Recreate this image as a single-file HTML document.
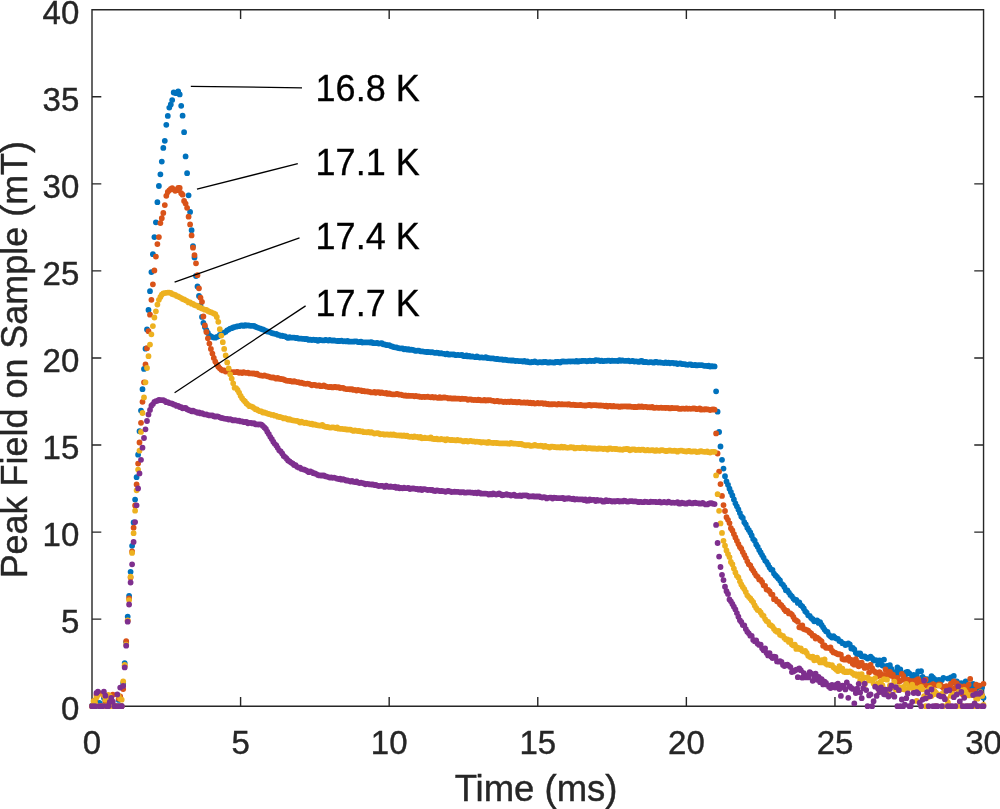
<!DOCTYPE html>
<html lang="en"><head><meta charset="utf-8"><title>Peak Field on Sample vs Time</title>
<style>html,body{margin:0;padding:0;background:#fff}body{width:1000px;height:809px;overflow:hidden}svg{display:block}</style>
</head><body>
<svg width="1000" height="809" viewBox="0 0 1000 809">
<rect width="1000" height="809" fill="#fff"/>
<path d="M92.00 9.70H983.55V706.20H92.00ZM240.59 706.20v-9.3M240.59 9.70v9.3M389.18 706.20v-9.3M389.18 9.70v9.3M537.77 706.20v-9.3M537.77 9.70v9.3M686.37 706.20v-9.3M686.37 9.70v9.3M834.96 706.20v-9.3M834.96 9.70v9.3M92.00 619.14h9.3M983.55 619.14h-9.3M92.00 532.08h9.3M983.55 532.08h-9.3M92.00 445.01h9.3M983.55 445.01h-9.3M92.00 357.95h9.3M983.55 357.95h-9.3M92.00 270.89h9.3M983.55 270.89h-9.3M92.00 183.83h9.3M983.55 183.83h-9.3M92.00 96.76h9.3M983.55 96.76h-9.3" fill="none" stroke="#262626" stroke-width="1.4"/>
<g font-family="'Liberation Sans', Arial, Helvetica, sans-serif" font-size="33" fill="#262626" stroke="#262626" stroke-width="0.4">
<text x="92.0" y="754.2" text-anchor="middle">0</text>
<text x="240.6" y="754.2" text-anchor="middle">5</text>
<text x="389.2" y="754.2" text-anchor="middle">10</text>
<text x="537.8" y="754.2" text-anchor="middle">15</text>
<text x="686.4" y="754.2" text-anchor="middle">20</text>
<text x="835.0" y="754.2" text-anchor="middle">25</text>
<text x="983.5" y="754.2" text-anchor="middle">30</text>
<text x="79.3" y="720.2" text-anchor="end">0</text>
<text x="79.3" y="633.1" text-anchor="end">5</text>
<text x="79.3" y="546.1" text-anchor="end">10</text>
<text x="79.3" y="459.0" text-anchor="end">15</text>
<text x="79.3" y="372.0" text-anchor="end">20</text>
<text x="79.3" y="284.9" text-anchor="end">25</text>
<text x="79.3" y="197.8" text-anchor="end">30</text>
<text x="79.3" y="110.8" text-anchor="end">35</text>
<text x="79.3" y="23.7" text-anchor="end">40</text>
</g>
<g font-family="'Liberation Sans', Arial, Helvetica, sans-serif" font-size="36.5" fill="#262626" stroke="#262626" stroke-width="0.4">
<text x="536.1" y="801.2" text-anchor="middle">Time (ms)</text>
<text transform="translate(26.8 359.7) rotate(-90) scale(1 1.05)" font-size="35.95" text-anchor="middle">Peak Field on Sample (mT)</text>
</g>
<path d="M92.0 705.7h0M93.5 706.2h0M95.0 706.2h0M96.5 706.2h0M97.9 706.2h0M99.4 703.0h0M100.9 706.2h0M102.4 706.2h0M103.9 697.7h0M105.4 702.4h0M106.9 706.2h0M108.3 696.4h0M109.8 706.2h0M111.3 706.2h0M112.8 706.2h0M114.3 706.2h0M115.8 706.2h0M117.3 706.2h0M118.7 699.9h0M120.2 706.2h0M121.7 706.2h0M123.2 683.2h0M124.7 663.1h0M126.2 642.1h0M127.7 616.6h0M129.1 595.8h0M130.6 571.8h0M132.1 545.8h0M133.6 522.4h0M135.1 499.6h0M136.6 477.2h0M138.1 454.7h0M139.5 431.2h0M141.0 410.6h0M142.5 389.2h0M144.0 368.9h0M145.5 348.7h0M147.0 329.4h0M148.5 310.0h0M150.0 291.2h0M151.4 272.1h0M152.9 254.2h0M154.4 237.1h0M155.9 222.3h0M157.4 202.2h0M158.9 186.0h0M160.4 174.3h0M161.8 161.6h0M163.3 147.9h0M164.8 140.8h0M166.3 124.8h0M167.8 115.9h0M169.3 107.6h0M170.8 104.4h0M172.2 100.1h0M173.7 92.5h0M175.2 93.1h0M176.7 93.2h0M178.2 91.5h0M179.7 94.4h0M181.2 105.8h0M182.6 115.7h0M184.1 132.2h0M185.6 156.4h0M187.1 173.2h0M188.6 195.3h0M190.1 211.9h0M191.6 230.2h0M193.0 246.1h0M194.5 257.5h0M196.0 276.0h0M197.5 286.5h0M199.0 295.9h0M200.5 305.6h0M202.0 316.9h0M203.4 322.9h0M204.9 327.1h0M206.4 330.2h0M207.9 333.0h0M209.4 335.5h0M210.9 336.5h0M212.4 337.1h0M213.8 337.6h0M215.3 337.7h0M216.8 337.0h0M218.3 336.3h0M219.8 335.0h0M221.3 334.5h0M222.8 333.0h0M224.2 332.6h0M225.7 331.8h0M227.2 330.3h0M228.7 329.6h0M230.2 328.6h0M231.7 328.2h0M233.2 327.5h0M234.6 327.1h0M236.1 326.7h0M237.6 326.3h0M239.1 326.2h0M240.6 325.6h0M242.1 325.5h0M243.6 325.9h0M245.0 325.2h0M246.5 325.5h0M248.0 325.3h0M249.5 325.7h0M251.0 325.9h0M252.5 325.9h0M254.0 325.9h0M255.5 326.7h0M256.9 327.3h0M258.4 327.8h0M259.9 328.3h0M261.4 329.1h0M262.9 329.4h0M264.4 330.1h0M265.9 330.9h0M267.3 331.6h0M268.8 331.6h0M270.3 332.3h0M271.8 333.0h0M273.3 333.4h0M274.8 333.8h0M276.3 333.8h0M277.7 334.8h0M279.2 335.1h0M280.7 335.8h0M282.2 335.7h0M283.7 336.2h0M285.2 336.3h0M286.7 337.3h0M288.1 337.9h0M289.6 337.1h0M291.1 337.6h0M292.6 337.6h0M294.1 337.7h0M295.6 338.0h0M297.1 338.0h0M298.5 338.6h0M300.0 338.6h0M301.5 338.7h0M303.0 338.9h0M304.5 339.0h0M306.0 339.0h0M307.5 339.1h0M308.9 339.9h0M310.4 339.6h0M311.9 340.0h0M313.4 339.7h0M314.9 340.0h0M316.4 340.0h0M317.9 340.8h0M319.3 339.9h0M320.8 340.1h0M322.3 340.3h0M323.8 340.4h0M325.3 340.0h0M326.8 340.1h0M328.3 340.5h0M329.7 339.9h0M331.2 340.4h0M332.7 340.7h0M334.2 340.5h0M335.7 340.8h0M337.2 341.0h0M338.7 341.1h0M340.1 341.0h0M341.6 340.7h0M343.1 341.3h0M344.6 341.2h0M346.1 341.4h0M347.6 341.0h0M349.1 341.7h0M350.5 341.7h0M352.0 341.6h0M353.5 341.7h0M355.0 341.4h0M356.5 341.4h0M358.0 342.0h0M359.5 342.2h0M361.0 341.6h0M362.4 342.5h0M363.9 342.3h0M365.4 342.3h0M366.9 342.4h0M368.4 342.4h0M369.9 342.5h0M371.4 342.2h0M372.8 343.0h0M374.3 343.1h0M375.8 343.1h0M377.3 343.0h0M378.8 343.6h0M380.3 343.4h0M381.8 343.1h0M383.2 344.3h0M384.7 344.4h0M386.2 345.0h0M387.7 345.2h0M389.2 345.2h0M390.7 346.0h0M392.2 346.5h0M393.6 347.1h0M395.1 347.3h0M396.6 347.5h0M398.1 348.0h0M399.6 348.3h0M401.1 348.4h0M402.6 348.4h0M404.0 349.3h0M405.5 348.9h0M407.0 349.5h0M408.5 349.2h0M410.0 349.9h0M411.5 349.7h0M413.0 349.9h0M414.4 350.4h0M415.9 350.9h0M417.4 350.7h0M418.9 350.6h0M420.4 351.3h0M421.9 351.3h0M423.4 351.6h0M424.8 351.8h0M426.3 352.0h0M427.8 352.0h0M429.3 352.2h0M430.8 352.3h0M432.3 352.2h0M433.8 352.6h0M435.2 352.9h0M436.7 352.7h0M438.2 352.9h0M439.7 353.4h0M441.2 353.1h0M442.7 353.6h0M444.2 353.8h0M445.6 354.3h0M447.1 353.7h0M448.6 354.5h0M450.1 354.5h0M451.6 354.4h0M453.1 354.5h0M454.6 354.7h0M456.0 355.2h0M457.5 354.9h0M459.0 355.1h0M460.5 355.2h0M462.0 355.0h0M463.5 356.0h0M465.0 356.1h0M466.5 355.5h0M467.9 356.4h0M469.4 355.9h0M470.9 356.7h0M472.4 356.4h0M473.9 356.8h0M475.4 357.2h0M476.9 356.4h0M478.3 357.2h0M479.8 357.6h0M481.3 357.3h0M482.8 357.6h0M484.3 357.6h0M485.8 357.1h0M487.3 358.0h0M488.7 358.1h0M490.2 358.3h0M491.7 358.4h0M493.2 358.4h0M494.7 358.8h0M496.2 359.0h0M497.7 359.0h0M499.1 359.3h0M500.6 359.4h0M502.1 359.5h0M503.6 359.9h0M505.1 359.7h0M506.6 360.0h0M508.1 360.3h0M509.5 360.3h0M511.0 360.5h0M512.5 360.5h0M514.0 360.6h0M515.5 361.0h0M517.0 360.8h0M518.5 361.1h0M519.9 361.1h0M521.4 361.1h0M522.9 361.6h0M524.4 361.0h0M525.9 361.8h0M527.4 361.5h0M528.9 362.2h0M530.3 362.4h0M531.8 361.8h0M533.3 362.0h0M534.8 361.4h0M536.3 362.2h0M537.8 362.6h0M539.3 362.1h0M540.7 362.1h0M542.2 362.4h0M543.7 362.0h0M545.2 362.0h0M546.7 362.2h0M548.2 362.7h0M549.7 362.1h0M551.1 362.4h0M552.6 362.3h0M554.1 362.7h0M555.6 362.0h0M557.1 362.1h0M558.6 361.9h0M560.1 362.6h0M561.5 361.7h0M563.0 361.3h0M564.5 361.7h0M566.0 361.7h0M567.5 361.6h0M569.0 361.3h0M570.5 361.6h0M572.0 361.3h0M573.4 361.3h0M574.9 361.5h0M576.4 361.0h0M577.9 361.7h0M579.4 361.2h0M580.9 361.2h0M582.4 360.9h0M583.8 360.9h0M585.3 360.8h0M586.8 361.3h0M588.3 361.0h0M589.8 360.7h0M591.3 361.0h0M592.8 360.8h0M594.2 361.0h0M595.7 360.2h0M597.2 360.4h0M598.7 360.5h0M600.2 361.0h0M601.7 360.6h0M603.2 361.2h0M604.6 360.9h0M606.1 360.9h0M607.6 360.6h0M609.1 360.7h0M610.6 361.0h0M612.1 360.7h0M613.6 360.9h0M615.0 360.9h0M616.5 360.9h0M618.0 361.1h0M619.5 360.1h0M621.0 360.8h0M622.5 360.5h0M624.0 360.8h0M625.4 360.8h0M626.9 360.8h0M628.4 360.6h0M629.9 361.3h0M631.4 361.1h0M632.9 361.0h0M634.4 361.6h0M635.8 361.4h0M637.3 361.6h0M638.8 361.9h0M640.3 361.2h0M641.8 361.0h0M643.3 362.0h0M644.8 362.2h0M646.2 362.0h0M647.7 362.3h0M649.2 362.3h0M650.7 362.2h0M652.2 362.3h0M653.7 362.7h0M655.2 362.0h0M656.6 361.8h0M658.1 362.5h0M659.6 362.3h0M661.1 362.7h0M662.6 362.8h0M664.1 363.0h0M665.6 362.5h0M667.0 363.0h0M668.5 362.7h0M670.0 363.3h0M671.5 362.9h0M673.0 362.9h0M674.5 363.4h0M676.0 363.2h0M677.5 364.0h0M678.9 363.6h0M680.4 363.3h0M681.9 364.0h0M683.4 364.1h0M684.9 364.1h0M686.4 364.7h0M687.9 364.8h0M689.3 364.3h0M690.8 364.3h0M692.3 365.2h0M693.8 365.2h0M695.3 365.0h0M696.8 365.4h0M698.3 365.1h0M699.7 365.2h0M701.2 365.2h0M702.7 365.3h0M704.2 365.8h0M705.7 365.8h0M707.2 366.0h0M708.7 365.6h0M710.1 366.6h0M711.6 366.2h0M713.1 366.4h0M714.6 366.4h0M716.1 391.3h0M717.6 411.7h0M719.1 432.0h0M720.5 446.5h0M722.0 459.8h0M723.5 468.6h0M725.0 476.2h0M726.5 481.5h0M728.0 484.7h0M729.5 488.7h0M730.9 492.0h0M732.4 495.5h0M733.9 499.5h0M735.4 503.3h0M736.9 506.3h0M738.4 509.4h0M739.9 513.0h0M741.3 516.4h0M742.8 518.0h0M744.3 522.2h0M745.8 524.3h0M747.3 527.7h0M748.8 530.0h0M750.3 532.4h0M751.7 535.4h0M753.2 539.1h0M754.7 540.7h0M756.2 544.4h0M757.7 546.7h0M759.2 550.0h0M760.7 552.4h0M762.1 555.1h0M763.6 557.6h0M765.1 560.6h0M766.6 562.1h0M768.1 564.7h0M769.6 567.5h0M771.1 569.6h0M772.5 569.9h0M774.0 573.6h0M775.5 575.5h0M777.0 576.9h0M778.5 578.8h0M780.0 580.5h0M781.5 583.6h0M783.0 584.8h0M784.4 587.0h0M785.9 590.3h0M787.4 590.5h0M788.9 592.6h0M790.4 595.0h0M791.9 596.3h0M793.4 598.6h0M794.8 599.9h0M796.3 599.8h0M797.8 602.9h0M799.3 602.5h0M800.8 605.2h0M802.3 606.3h0M803.8 608.4h0M805.2 611.2h0M806.7 612.6h0M808.2 615.3h0M809.7 616.0h0M811.2 617.9h0M812.7 619.2h0M814.2 621.3h0M815.6 621.1h0M817.1 620.5h0M818.6 622.9h0M820.1 622.1h0M821.6 624.9h0M823.1 627.2h0M824.6 629.6h0M826.0 631.2h0M827.5 632.0h0M829.0 634.9h0M830.5 636.2h0M832.0 637.6h0M833.5 636.2h0M835.0 637.7h0M836.4 638.6h0M837.9 638.8h0M839.4 640.9h0M840.9 641.6h0M842.4 643.2h0M843.9 643.6h0M845.4 645.0h0M846.8 644.5h0M848.3 643.3h0M849.8 644.4h0M851.3 648.5h0M852.8 648.0h0M854.3 649.4h0M855.8 652.8h0M857.2 654.3h0M858.7 653.3h0M860.2 653.3h0M861.7 656.2h0M863.2 656.5h0M864.7 656.4h0M866.2 657.4h0M867.6 658.6h0M869.1 657.7h0M870.6 656.7h0M872.1 658.2h0M873.6 660.6h0M875.1 660.1h0M876.6 660.3h0M878.0 664.5h0M879.5 660.5h0M881.0 663.9h0M882.5 665.5h0M884.0 659.6h0M885.5 666.6h0M887.0 665.8h0M888.5 667.7h0M889.9 665.2h0M891.4 668.9h0M892.9 672.3h0M894.4 674.6h0M895.9 671.9h0M897.4 667.4h0M898.9 674.1h0M900.3 669.5h0M901.8 672.9h0M903.3 673.9h0M904.8 676.7h0M906.3 672.2h0M907.8 671.9h0M909.3 673.4h0M910.7 679.2h0M912.2 676.3h0M913.7 674.9h0M915.2 677.2h0M916.7 675.4h0M918.2 671.4h0M919.7 680.6h0M921.1 671.2h0M922.6 676.8h0M924.1 679.0h0M925.6 679.2h0M927.1 679.2h0M928.6 681.7h0M930.1 681.1h0M931.5 676.1h0M933.0 677.6h0M934.5 679.1h0M936.0 680.1h0M937.5 682.6h0M939.0 679.9h0M940.5 681.7h0M941.9 680.1h0M943.4 677.8h0M944.9 688.9h0M946.4 688.2h0M947.9 678.6h0M949.4 686.5h0M950.9 677.3h0M952.3 682.3h0M953.8 675.9h0M955.3 682.5h0M956.8 681.4h0M958.3 687.1h0M959.8 686.9h0M961.3 683.1h0M962.7 687.1h0M964.2 684.8h0M965.7 681.3h0M967.2 688.0h0M968.7 688.3h0M970.2 685.2h0M971.7 686.7h0M973.1 684.0h0M974.6 687.0h0M976.1 690.5h0M977.6 697.5h0M979.1 685.9h0M980.6 690.3h0M982.1 687.3h0M983.5 697.8h0" fill="none" stroke="#0072BD" stroke-width="5.8" stroke-linecap="round"/>
<path d="M92.0 706.2h0M93.5 706.2h0M95.0 700.3h0M96.5 694.9h0M97.9 694.4h0M99.4 693.1h0M100.9 706.2h0M102.4 706.2h0M103.9 695.5h0M105.4 700.8h0M106.9 706.2h0M108.3 706.2h0M109.8 706.2h0M111.3 706.2h0M112.8 694.7h0M114.3 706.2h0M115.8 706.2h0M117.3 706.2h0M118.7 698.6h0M120.2 696.5h0M121.7 706.2h0M123.2 689.1h0M124.7 665.8h0M126.2 641.2h0M127.7 620.7h0M129.1 598.3h0M130.6 577.5h0M132.1 551.5h0M133.6 527.7h0M135.1 505.4h0M136.6 484.4h0M138.1 463.6h0M139.5 442.5h0M141.0 422.8h0M142.5 401.8h0M144.0 382.3h0M145.5 364.5h0M147.0 348.2h0M148.5 331.2h0M150.0 314.7h0M151.4 299.8h0M152.9 284.3h0M154.4 270.5h0M155.9 256.6h0M157.4 244.1h0M158.9 237.1h0M160.4 223.1h0M161.8 218.2h0M163.3 212.9h0M164.8 205.1h0M166.3 195.8h0M167.8 191.9h0M169.3 190.3h0M170.8 189.0h0M172.2 188.2h0M173.7 189.6h0M175.2 190.8h0M176.7 190.2h0M178.2 188.0h0M179.7 188.0h0M181.2 193.2h0M182.6 194.7h0M184.1 201.0h0M185.6 203.6h0M187.1 207.8h0M188.6 216.7h0M190.1 224.4h0M191.6 235.4h0M193.0 247.7h0M194.5 255.2h0M196.0 263.3h0M197.5 275.2h0M199.0 288.3h0M200.5 297.7h0M202.0 301.8h0M203.4 316.5h0M204.9 325.5h0M206.4 331.9h0M207.9 338.3h0M209.4 343.6h0M210.9 349.0h0M212.4 353.6h0M213.8 358.0h0M215.3 361.6h0M216.8 364.5h0M218.3 366.7h0M219.8 368.3h0M221.3 369.7h0M222.8 370.4h0M224.2 370.4h0M225.7 371.6h0M227.2 371.3h0M228.7 371.4h0M230.2 372.0h0M231.7 372.1h0M233.2 372.2h0M234.6 372.2h0M236.1 372.1h0M237.6 372.0h0M239.1 372.8h0M240.6 372.4h0M242.1 373.0h0M243.6 372.2h0M245.0 372.7h0M246.5 372.9h0M248.0 372.6h0M249.5 373.4h0M251.0 373.4h0M252.5 373.6h0M254.0 373.3h0M255.5 374.0h0M256.9 373.7h0M258.4 374.8h0M259.9 375.3h0M261.4 375.6h0M262.9 375.8h0M264.4 375.5h0M265.9 375.8h0M267.3 376.3h0M268.8 376.6h0M270.3 377.3h0M271.8 377.6h0M273.3 377.4h0M274.8 378.0h0M276.3 378.7h0M277.7 377.8h0M279.2 378.8h0M280.7 379.0h0M282.2 379.2h0M283.7 379.5h0M285.2 380.2h0M286.7 380.7h0M288.1 380.9h0M289.6 381.0h0M291.1 381.2h0M292.6 381.7h0M294.1 381.2h0M295.6 381.7h0M297.1 382.1h0M298.5 382.2h0M300.0 382.8h0M301.5 382.7h0M303.0 383.2h0M304.5 383.7h0M306.0 383.8h0M307.5 383.7h0M308.9 383.8h0M310.4 384.6h0M311.9 385.3h0M313.4 384.8h0M314.9 385.0h0M316.4 385.6h0M317.9 385.7h0M319.3 385.4h0M320.8 386.2h0M322.3 386.0h0M323.8 385.5h0M325.3 386.2h0M326.8 386.7h0M328.3 387.1h0M329.7 387.0h0M331.2 386.9h0M332.7 387.4h0M334.2 386.9h0M335.7 387.0h0M337.2 387.4h0M338.7 387.2h0M340.1 388.1h0M341.6 387.8h0M343.1 388.0h0M344.6 388.7h0M346.1 389.1h0M347.6 389.2h0M349.1 389.1h0M350.5 389.4h0M352.0 389.2h0M353.5 389.9h0M355.0 389.8h0M356.5 390.5h0M358.0 390.0h0M359.5 390.3h0M361.0 390.5h0M362.4 391.2h0M363.9 390.8h0M365.4 391.4h0M366.9 391.3h0M368.4 391.7h0M369.9 391.9h0M371.4 392.4h0M372.8 392.3h0M374.3 392.0h0M375.8 392.8h0M377.3 392.1h0M378.8 392.2h0M380.3 393.0h0M381.8 392.5h0M383.2 393.1h0M384.7 393.3h0M386.2 392.9h0M387.7 393.9h0M389.2 393.4h0M390.7 394.0h0M392.2 394.3h0M393.6 394.3h0M395.1 394.3h0M396.6 394.0h0M398.1 394.2h0M399.6 394.7h0M401.1 394.7h0M402.6 395.2h0M404.0 395.6h0M405.5 395.4h0M407.0 395.9h0M408.5 395.7h0M410.0 395.9h0M411.5 395.9h0M413.0 395.8h0M414.4 396.3h0M415.9 396.0h0M417.4 396.3h0M418.9 396.5h0M420.4 396.9h0M421.9 397.0h0M423.4 396.9h0M424.8 397.0h0M426.3 396.9h0M427.8 396.7h0M429.3 397.1h0M430.8 397.3h0M432.3 397.0h0M433.8 397.6h0M435.2 397.2h0M436.7 397.6h0M438.2 397.9h0M439.7 397.2h0M441.2 397.9h0M442.7 397.7h0M444.2 397.4h0M445.6 397.6h0M447.1 397.8h0M448.6 398.4h0M450.1 398.2h0M451.6 398.6h0M453.1 398.5h0M454.6 398.5h0M456.0 398.6h0M457.5 398.7h0M459.0 398.7h0M460.5 399.0h0M462.0 398.6h0M463.5 398.9h0M465.0 398.8h0M466.5 399.1h0M467.9 399.8h0M469.4 399.4h0M470.9 399.4h0M472.4 399.9h0M473.9 400.0h0M475.4 399.9h0M476.9 400.2h0M478.3 399.7h0M479.8 400.0h0M481.3 400.4h0M482.8 400.4h0M484.3 400.0h0M485.8 400.5h0M487.3 400.2h0M488.7 400.3h0M490.2 400.2h0M491.7 400.6h0M493.2 400.8h0M494.7 401.3h0M496.2 401.1h0M497.7 401.0h0M499.1 401.6h0M500.6 401.3h0M502.1 401.6h0M503.6 402.0h0M505.1 401.6h0M506.6 402.0h0M508.1 401.6h0M509.5 402.1h0M511.0 401.5h0M512.5 402.1h0M514.0 402.0h0M515.5 401.8h0M517.0 402.4h0M518.5 401.8h0M519.9 402.2h0M521.4 402.7h0M522.9 402.7h0M524.4 402.4h0M525.9 402.8h0M527.4 402.3h0M528.9 403.0h0M530.3 402.6h0M531.8 403.3h0M533.3 402.8h0M534.8 403.5h0M536.3 403.3h0M537.8 403.0h0M539.3 403.4h0M540.7 403.1h0M542.2 403.1h0M543.7 403.8h0M545.2 403.5h0M546.7 404.0h0M548.2 404.0h0M549.7 404.4h0M551.1 404.2h0M552.6 404.3h0M554.1 404.1h0M555.6 404.3h0M557.1 404.5h0M558.6 404.0h0M560.1 404.3h0M561.5 404.2h0M563.0 404.4h0M564.5 404.4h0M566.0 404.4h0M567.5 404.5h0M569.0 404.1h0M570.5 404.8h0M572.0 404.9h0M573.4 404.6h0M574.9 405.0h0M576.4 405.1h0M577.9 405.2h0M579.4 405.2h0M580.9 405.0h0M582.4 405.3h0M583.8 405.3h0M585.3 405.7h0M586.8 405.3h0M588.3 405.1h0M589.8 404.8h0M591.3 405.6h0M592.8 405.1h0M594.2 405.2h0M595.7 405.1h0M597.2 405.4h0M598.7 405.5h0M600.2 405.5h0M601.7 405.6h0M603.2 405.7h0M604.6 406.0h0M606.1 405.6h0M607.6 406.5h0M609.1 405.8h0M610.6 405.9h0M612.1 406.4h0M613.6 405.8h0M615.0 406.4h0M616.5 406.4h0M618.0 406.4h0M619.5 406.9h0M621.0 406.4h0M622.5 406.6h0M624.0 406.3h0M625.4 406.3h0M626.9 406.5h0M628.4 406.7h0M629.9 406.5h0M631.4 406.8h0M632.9 406.8h0M634.4 407.2h0M635.8 407.0h0M637.3 407.1h0M638.8 406.3h0M640.3 406.9h0M641.8 406.5h0M643.3 407.1h0M644.8 406.8h0M646.2 406.8h0M647.7 407.3h0M649.2 407.2h0M650.7 407.4h0M652.2 406.9h0M653.7 407.8h0M655.2 407.8h0M656.6 407.6h0M658.1 407.8h0M659.6 407.8h0M661.1 407.7h0M662.6 407.9h0M664.1 407.9h0M665.6 408.1h0M667.0 407.8h0M668.5 408.0h0M670.0 408.4h0M671.5 408.0h0M673.0 408.1h0M674.5 408.2h0M676.0 408.2h0M677.5 408.2h0M678.9 408.8h0M680.4 408.9h0M681.9 408.7h0M683.4 408.7h0M684.9 408.8h0M686.4 408.3h0M687.9 408.8h0M689.3 408.6h0M690.8 408.8h0M692.3 408.7h0M693.8 408.4h0M695.3 408.7h0M696.8 409.2h0M698.3 408.9h0M699.7 408.4h0M701.2 409.7h0M702.7 409.4h0M704.2 409.5h0M705.7 409.2h0M707.2 409.4h0M708.7 409.6h0M710.1 410.0h0M711.6 409.7h0M713.1 409.5h0M714.6 409.7h0M716.1 433.4h0M717.6 453.5h0M719.1 471.6h0M720.5 484.1h0M722.0 495.9h0M723.5 505.1h0M725.0 511.0h0M726.5 517.2h0M728.0 519.8h0M729.5 523.1h0M730.9 528.2h0M732.4 530.5h0M733.9 534.0h0M735.4 537.5h0M736.9 540.7h0M738.4 544.0h0M739.9 547.0h0M741.3 548.7h0M742.8 552.1h0M744.3 554.9h0M745.8 557.8h0M747.3 561.3h0M748.8 564.2h0M750.3 565.3h0M751.7 568.5h0M753.2 570.6h0M754.7 573.1h0M756.2 575.6h0M757.7 576.8h0M759.2 579.6h0M760.7 580.0h0M762.1 581.9h0M763.6 585.3h0M765.1 585.9h0M766.6 589.4h0M768.1 589.9h0M769.6 591.3h0M771.1 594.1h0M772.5 594.7h0M774.0 599.2h0M775.5 599.2h0M777.0 601.3h0M778.5 602.0h0M780.0 604.2h0M781.5 605.5h0M783.0 607.3h0M784.4 609.4h0M785.9 611.2h0M787.4 610.9h0M788.9 613.4h0M790.4 613.3h0M791.9 614.6h0M793.4 616.9h0M794.8 619.6h0M796.3 620.5h0M797.8 621.7h0M799.3 627.3h0M800.8 627.5h0M802.3 625.5h0M803.8 628.9h0M805.2 629.5h0M806.7 630.0h0M808.2 630.7h0M809.7 632.5h0M811.2 633.4h0M812.7 635.7h0M814.2 635.9h0M815.6 638.5h0M817.1 637.6h0M818.6 638.8h0M820.1 640.2h0M821.6 641.3h0M823.1 645.8h0M824.6 645.5h0M826.0 647.8h0M827.5 647.9h0M829.0 648.0h0M830.5 647.4h0M832.0 650.7h0M833.5 652.4h0M835.0 652.7h0M836.4 653.4h0M837.9 654.3h0M839.4 654.1h0M840.9 654.7h0M842.4 659.0h0M843.9 659.6h0M845.4 659.1h0M846.8 659.7h0M848.3 657.5h0M849.8 660.9h0M851.3 659.8h0M852.8 663.8h0M854.3 664.7h0M855.8 659.1h0M857.2 662.0h0M858.7 666.3h0M860.2 665.5h0M861.7 662.6h0M863.2 665.5h0M864.7 667.9h0M866.2 665.8h0M867.6 667.2h0M869.1 672.6h0M870.6 664.9h0M872.1 668.1h0M873.6 670.8h0M875.1 671.9h0M876.6 673.1h0M878.0 676.1h0M879.5 672.2h0M881.0 673.9h0M882.5 676.0h0M884.0 675.2h0M885.5 669.5h0M887.0 676.2h0M888.5 672.7h0M889.9 672.0h0M891.4 675.8h0M892.9 674.6h0M894.4 679.8h0M895.9 678.9h0M897.4 678.0h0M898.9 681.5h0M900.3 681.0h0M901.8 673.8h0M903.3 675.9h0M904.8 679.2h0M906.3 682.7h0M907.8 679.6h0M909.3 683.4h0M910.7 681.3h0M912.2 681.2h0M913.7 681.2h0M915.2 684.1h0M916.7 679.9h0M918.2 679.1h0M919.7 684.1h0M921.1 682.6h0M922.6 684.9h0M924.1 683.2h0M925.6 679.7h0M927.1 685.9h0M928.6 686.6h0M930.1 685.3h0M931.5 686.1h0M933.0 684.1h0M934.5 684.9h0M936.0 706.2h0M937.5 685.3h0M939.0 684.4h0M940.5 684.7h0M941.9 686.5h0M943.4 688.1h0M944.9 689.5h0M946.4 686.1h0M947.9 687.3h0M949.4 687.1h0M950.9 683.7h0M952.3 689.7h0M953.8 681.5h0M955.3 688.0h0M956.8 683.4h0M958.3 688.7h0M959.8 686.1h0M961.3 688.7h0M962.7 694.3h0M964.2 686.5h0M965.7 693.8h0M967.2 689.7h0M968.7 684.6h0M970.2 678.9h0M971.7 690.9h0M973.1 706.2h0M974.6 690.9h0M976.1 684.7h0M977.6 686.1h0M979.1 685.7h0M980.6 693.8h0M982.1 695.6h0M983.5 683.8h0" fill="none" stroke="#D95319" stroke-width="5.8" stroke-linecap="round"/>
<path d="M92.0 706.2h0M93.5 701.2h0M95.0 702.8h0M96.5 697.6h0M97.9 695.0h0M99.4 706.2h0M100.9 706.2h0M102.4 706.2h0M103.9 695.4h0M105.4 699.7h0M106.9 706.2h0M108.3 694.9h0M109.8 696.2h0M111.3 706.2h0M112.8 706.2h0M114.3 706.2h0M115.8 706.2h0M117.3 706.2h0M118.7 695.9h0M120.2 698.8h0M121.7 699.7h0M123.2 681.5h0M124.7 664.9h0M126.2 644.7h0M127.7 620.3h0M129.1 600.1h0M130.6 576.7h0M132.1 552.9h0M133.6 533.2h0M135.1 510.7h0M136.6 490.3h0M138.1 469.6h0M139.5 450.7h0M141.0 431.9h0M142.5 413.0h0M144.0 397.4h0M145.5 382.3h0M147.0 368.0h0M148.5 356.2h0M150.0 344.6h0M151.4 334.3h0M152.9 326.1h0M154.4 317.5h0M155.9 311.3h0M157.4 304.6h0M158.9 299.8h0M160.4 296.9h0M161.8 294.7h0M163.3 293.3h0M164.8 293.1h0M166.3 292.8h0M167.8 292.7h0M169.3 292.6h0M170.8 292.9h0M172.2 294.0h0M173.7 294.4h0M175.2 295.0h0M176.7 295.9h0M178.2 296.5h0M179.7 297.3h0M181.2 298.1h0M182.6 298.9h0M184.1 299.5h0M185.6 300.3h0M187.1 301.1h0M188.6 302.4h0M190.1 302.5h0M191.6 303.7h0M193.0 303.9h0M194.5 305.0h0M196.0 305.5h0M197.5 306.0h0M199.0 307.2h0M200.5 307.7h0M202.0 308.6h0M203.4 309.1h0M204.9 309.7h0M206.4 310.0h0M207.9 311.0h0M209.4 311.7h0M210.9 312.2h0M212.4 312.8h0M213.8 313.5h0M215.3 314.2h0M216.8 316.9h0M218.3 321.8h0M219.8 329.2h0M221.3 335.6h0M222.8 342.2h0M224.2 348.9h0M225.7 355.5h0M227.2 362.4h0M228.7 368.4h0M230.2 374.3h0M231.7 378.6h0M233.2 383.3h0M234.6 387.7h0M236.1 388.1h0M237.6 390.0h0M239.1 392.6h0M240.6 395.7h0M242.1 398.2h0M243.6 400.1h0M245.0 401.4h0M246.5 403.5h0M248.0 404.8h0M249.5 406.2h0M251.0 406.3h0M252.5 406.9h0M254.0 408.1h0M255.5 409.3h0M256.9 409.4h0M258.4 410.6h0M259.9 411.2h0M261.4 411.5h0M262.9 412.6h0M264.4 412.4h0M265.9 412.9h0M267.3 413.6h0M268.8 414.0h0M270.3 414.3h0M271.8 414.9h0M273.3 414.9h0M274.8 415.7h0M276.3 415.8h0M277.7 416.7h0M279.2 417.0h0M280.7 417.1h0M282.2 417.6h0M283.7 418.4h0M285.2 418.2h0M286.7 418.7h0M288.1 419.5h0M289.6 419.1h0M291.1 419.9h0M292.6 420.3h0M294.1 420.6h0M295.6 420.8h0M297.1 420.9h0M298.5 421.4h0M300.0 422.5h0M301.5 421.7h0M303.0 422.4h0M304.5 423.0h0M306.0 422.7h0M307.5 423.3h0M308.9 423.4h0M310.4 424.0h0M311.9 423.7h0M313.4 424.7h0M314.9 424.4h0M316.4 425.1h0M317.9 425.3h0M319.3 425.6h0M320.8 425.7h0M322.3 425.0h0M323.8 426.2h0M325.3 426.8h0M326.8 427.0h0M328.3 427.1h0M329.7 427.6h0M331.2 427.6h0M332.7 427.4h0M334.2 427.6h0M335.7 428.1h0M337.2 427.4h0M338.7 428.7h0M340.1 428.8h0M341.6 428.9h0M343.1 429.1h0M344.6 429.1h0M346.1 429.4h0M347.6 429.7h0M349.1 429.7h0M350.5 429.7h0M352.0 430.3h0M353.5 430.9h0M355.0 430.3h0M356.5 430.8h0M358.0 431.1h0M359.5 430.9h0M361.0 431.4h0M362.4 431.4h0M363.9 432.2h0M365.4 432.1h0M366.9 432.3h0M368.4 432.0h0M369.9 432.5h0M371.4 432.1h0M372.8 432.8h0M374.3 433.5h0M375.8 433.3h0M377.3 433.1h0M378.8 433.4h0M380.3 434.3h0M381.8 434.1h0M383.2 434.2h0M384.7 434.7h0M386.2 434.3h0M387.7 434.5h0M389.2 434.8h0M390.7 434.4h0M392.2 434.9h0M393.6 434.4h0M395.1 435.0h0M396.6 435.3h0M398.1 435.4h0M399.6 435.6h0M401.1 435.4h0M402.6 435.9h0M404.0 435.5h0M405.5 436.1h0M407.0 435.7h0M408.5 436.6h0M410.0 436.8h0M411.5 436.6h0M413.0 437.0h0M414.4 436.4h0M415.9 436.9h0M417.4 437.0h0M418.9 437.6h0M420.4 436.9h0M421.9 438.3h0M423.4 438.2h0M424.8 437.7h0M426.3 438.1h0M427.8 438.2h0M429.3 438.3h0M430.8 437.4h0M432.3 438.8h0M433.8 439.0h0M435.2 439.0h0M436.7 438.6h0M438.2 439.4h0M439.7 439.4h0M441.2 439.0h0M442.7 439.3h0M444.2 439.3h0M445.6 440.3h0M447.1 439.2h0M448.6 439.6h0M450.1 440.1h0M451.6 440.0h0M453.1 440.1h0M454.6 440.2h0M456.0 440.4h0M457.5 439.9h0M459.0 440.3h0M460.5 440.4h0M462.0 440.8h0M463.5 441.4h0M465.0 441.0h0M466.5 441.0h0M467.9 441.5h0M469.4 441.1h0M470.9 440.8h0M472.4 441.3h0M473.9 441.3h0M475.4 441.8h0M476.9 441.7h0M478.3 441.8h0M479.8 442.0h0M481.3 442.6h0M482.8 442.2h0M484.3 442.3h0M485.8 442.3h0M487.3 442.9h0M488.7 441.9h0M490.2 442.6h0M491.7 442.8h0M493.2 443.1h0M494.7 442.8h0M496.2 443.0h0M497.7 443.2h0M499.1 443.3h0M500.6 443.3h0M502.1 443.4h0M503.6 443.3h0M505.1 443.4h0M506.6 443.3h0M508.1 443.7h0M509.5 443.8h0M511.0 443.0h0M512.5 443.3h0M514.0 443.7h0M515.5 443.6h0M517.0 443.8h0M518.5 444.0h0M519.9 444.1h0M521.4 444.0h0M522.9 444.7h0M524.4 445.1h0M525.9 445.4h0M527.4 445.2h0M528.9 445.2h0M530.3 445.8h0M531.8 445.8h0M533.3 445.5h0M534.8 445.0h0M536.3 445.6h0M537.8 445.8h0M539.3 445.9h0M540.7 445.7h0M542.2 445.8h0M543.7 446.8h0M545.2 445.8h0M546.7 446.7h0M548.2 446.9h0M549.7 447.5h0M551.1 446.6h0M552.6 446.7h0M554.1 447.0h0M555.6 447.1h0M557.1 447.4h0M558.6 447.1h0M560.1 447.5h0M561.5 446.7h0M563.0 447.6h0M564.5 447.0h0M566.0 447.5h0M567.5 447.8h0M569.0 447.6h0M570.5 447.2h0M572.0 447.4h0M573.4 447.4h0M574.9 448.4h0M576.4 447.8h0M577.9 447.9h0M579.4 448.1h0M580.9 448.0h0M582.4 447.3h0M583.8 448.0h0M585.3 447.6h0M586.8 448.5h0M588.3 448.2h0M589.8 448.1h0M591.3 448.4h0M592.8 448.7h0M594.2 448.5h0M595.7 448.6h0M597.2 448.9h0M598.7 448.5h0M600.2 448.6h0M601.7 448.7h0M603.2 449.0h0M604.6 448.7h0M606.1 448.8h0M607.6 449.5h0M609.1 448.5h0M610.6 448.4h0M612.1 449.0h0M613.6 448.8h0M615.0 449.1h0M616.5 449.0h0M618.0 449.3h0M619.5 449.5h0M621.0 449.6h0M622.5 449.8h0M624.0 449.2h0M625.4 449.2h0M626.9 449.0h0M628.4 449.2h0M629.9 450.3h0M631.4 449.7h0M632.9 449.4h0M634.4 449.3h0M635.8 450.1h0M637.3 449.9h0M638.8 449.7h0M640.3 450.1h0M641.8 449.7h0M643.3 449.6h0M644.8 450.3h0M646.2 450.3h0M647.7 450.0h0M649.2 450.4h0M650.7 450.3h0M652.2 450.2h0M653.7 450.4h0M655.2 450.9h0M656.6 450.1h0M658.1 450.6h0M659.6 450.8h0M661.1 450.2h0M662.6 450.1h0M664.1 450.6h0M665.6 451.0h0M667.0 451.0h0M668.5 450.7h0M670.0 450.4h0M671.5 450.8h0M673.0 450.9h0M674.5 450.7h0M676.0 451.0h0M677.5 451.7h0M678.9 450.8h0M680.4 450.7h0M681.9 450.7h0M683.4 451.1h0M684.9 451.3h0M686.4 451.5h0M687.9 451.2h0M689.3 450.9h0M690.8 451.6h0M692.3 451.6h0M693.8 451.3h0M695.3 451.3h0M696.8 452.0h0M698.3 451.9h0M699.7 451.5h0M701.2 451.2h0M702.7 451.6h0M704.2 451.8h0M705.7 451.9h0M707.2 451.5h0M708.7 452.2h0M710.1 452.6h0M711.6 451.9h0M713.1 451.9h0M714.6 451.8h0M716.1 475.4h0M717.6 494.2h0M719.1 510.8h0M720.5 523.4h0M722.0 532.9h0M723.5 540.8h0M725.0 545.7h0M726.5 550.5h0M728.0 553.9h0M729.5 557.1h0M730.9 561.9h0M732.4 564.2h0M733.9 568.6h0M735.4 572.4h0M736.9 575.8h0M738.4 577.5h0M739.9 581.2h0M741.3 584.5h0M742.8 587.0h0M744.3 589.1h0M745.8 591.9h0M747.3 595.3h0M748.8 597.1h0M750.3 598.5h0M751.7 600.5h0M753.2 602.2h0M754.7 605.5h0M756.2 608.0h0M757.7 610.0h0M759.2 610.6h0M760.7 612.4h0M762.1 615.0h0M763.6 616.0h0M765.1 619.1h0M766.6 621.1h0M768.1 621.8h0M769.6 624.7h0M771.1 625.5h0M772.5 626.6h0M774.0 629.0h0M775.5 630.7h0M777.0 631.8h0M778.5 631.0h0M780.0 634.7h0M781.5 635.4h0M783.0 635.8h0M784.4 638.1h0M785.9 639.6h0M787.4 639.3h0M788.9 641.9h0M790.4 640.5h0M791.9 644.4h0M793.4 645.4h0M794.8 644.7h0M796.3 648.9h0M797.8 647.7h0M799.3 649.1h0M800.8 648.5h0M802.3 650.8h0M803.8 651.4h0M805.2 651.0h0M806.7 653.0h0M808.2 655.8h0M809.7 656.8h0M811.2 657.5h0M812.7 656.7h0M814.2 660.3h0M815.6 658.5h0M817.1 657.6h0M818.6 660.5h0M820.1 662.4h0M821.6 660.2h0M823.1 662.4h0M824.6 659.3h0M826.0 663.8h0M827.5 664.7h0M829.0 664.7h0M830.5 665.2h0M832.0 665.1h0M833.5 667.3h0M835.0 668.6h0M836.4 669.8h0M837.9 671.1h0M839.4 666.2h0M840.9 670.0h0M842.4 668.7h0M843.9 671.7h0M845.4 672.2h0M846.8 671.5h0M848.3 672.1h0M849.8 671.4h0M851.3 672.2h0M852.8 673.5h0M854.3 674.9h0M855.8 674.1h0M857.2 675.9h0M858.7 674.4h0M860.2 680.4h0M861.7 674.2h0M863.2 678.2h0M864.7 684.3h0M866.2 677.7h0M867.6 677.4h0M869.1 680.4h0M870.6 679.5h0M872.1 680.1h0M873.6 683.6h0M875.1 678.1h0M876.6 685.2h0M878.0 683.5h0M879.5 691.9h0M881.0 681.1h0M882.5 685.5h0M884.0 679.1h0M885.5 689.7h0M887.0 679.7h0M888.5 693.9h0M889.9 685.4h0M891.4 685.5h0M892.9 687.0h0M894.4 681.7h0M895.9 689.8h0M897.4 688.3h0M898.9 687.0h0M900.3 687.8h0M901.8 689.0h0M903.3 686.8h0M904.8 689.5h0M906.3 683.8h0M907.8 689.3h0M909.3 687.4h0M910.7 687.1h0M912.2 684.6h0M913.7 691.9h0M915.2 688.1h0M916.7 700.9h0M918.2 689.0h0M919.7 687.7h0M921.1 686.8h0M922.6 689.4h0M924.1 696.2h0M925.6 706.2h0M927.1 697.7h0M928.6 689.8h0M930.1 687.8h0M931.5 695.9h0M933.0 694.4h0M934.5 691.0h0M936.0 692.6h0M937.5 694.4h0M939.0 685.6h0M940.5 695.5h0M941.9 694.0h0M943.4 706.2h0M944.9 691.8h0M946.4 699.1h0M947.9 702.3h0M949.4 706.2h0M950.9 695.8h0M952.3 693.8h0M953.8 695.6h0M955.3 694.7h0M956.8 706.2h0M958.3 692.7h0M959.8 689.8h0M961.3 706.2h0M962.7 706.2h0M964.2 689.8h0M965.7 691.8h0M967.2 706.2h0M968.7 695.4h0M970.2 706.2h0M971.7 695.1h0M973.1 694.9h0M974.6 706.2h0M976.1 698.5h0M977.6 698.7h0M979.1 706.2h0M980.6 692.2h0M982.1 695.9h0M983.5 705.0h0" fill="none" stroke="#EDB120" stroke-width="5.8" stroke-linecap="round"/>
<path d="M92.0 706.2h0M93.5 706.2h0M95.0 706.2h0M96.5 692.9h0M97.9 691.6h0M99.4 706.2h0M100.9 706.2h0M102.4 706.2h0M103.9 691.7h0M105.4 695.7h0M106.9 706.2h0M108.3 706.2h0M109.8 701.9h0M111.3 698.0h0M112.8 701.6h0M114.3 706.2h0M115.8 706.2h0M117.3 694.5h0M118.7 706.2h0M120.2 687.6h0M121.7 706.2h0M123.2 685.9h0M124.7 667.4h0M126.2 645.7h0M127.7 621.7h0M129.1 604.5h0M130.6 582.5h0M132.1 564.3h0M133.6 541.9h0M135.1 522.1h0M136.6 505.3h0M138.1 488.4h0M139.5 473.4h0M141.0 459.8h0M142.5 447.7h0M144.0 438.0h0M145.5 429.3h0M147.0 421.0h0M148.5 414.5h0M150.0 410.0h0M151.4 405.7h0M152.9 404.1h0M154.4 401.8h0M155.9 401.2h0M157.4 400.7h0M158.9 400.0h0M160.4 400.1h0M161.8 400.2h0M163.3 400.2h0M164.8 401.0h0M166.3 402.2h0M167.8 402.2h0M169.3 403.0h0M170.8 403.3h0M172.2 403.7h0M173.7 404.5h0M175.2 405.0h0M176.7 405.9h0M178.2 405.8h0M179.7 407.0h0M181.2 407.2h0M182.6 408.3h0M184.1 408.1h0M185.6 408.0h0M187.1 409.2h0M188.6 409.9h0M190.1 410.5h0M191.6 411.3h0M193.0 410.7h0M194.5 411.4h0M196.0 412.0h0M197.5 412.8h0M199.0 412.3h0M200.5 413.4h0M202.0 413.2h0M203.4 413.9h0M204.9 414.4h0M206.4 414.5h0M207.9 415.1h0M209.4 415.4h0M210.9 415.4h0M212.4 415.4h0M213.8 416.3h0M215.3 416.7h0M216.8 416.3h0M218.3 416.6h0M219.8 417.3h0M221.3 417.9h0M222.8 418.2h0M224.2 418.6h0M225.7 418.8h0M227.2 419.0h0M228.7 419.6h0M230.2 419.2h0M231.7 419.7h0M233.2 420.4h0M234.6 420.2h0M236.1 420.3h0M237.6 420.8h0M239.1 420.6h0M240.6 421.4h0M242.1 421.5h0M243.6 422.0h0M245.0 422.0h0M246.5 422.0h0M248.0 423.3h0M249.5 422.9h0M251.0 423.0h0M252.5 423.4h0M254.0 423.2h0M255.5 424.3h0M256.9 424.4h0M258.4 424.5h0M259.9 424.4h0M261.4 424.7h0M262.9 426.0h0M264.4 427.4h0M265.9 428.9h0M267.3 431.7h0M268.8 433.9h0M270.3 436.8h0M271.8 438.9h0M273.3 441.7h0M274.8 443.8h0M276.3 445.5h0M277.7 447.8h0M279.2 450.3h0M280.7 451.4h0M282.2 453.4h0M283.7 455.9h0M285.2 457.1h0M286.7 458.7h0M288.1 460.5h0M289.6 461.5h0M291.1 462.6h0M292.6 463.4h0M294.1 465.0h0M295.6 465.2h0M297.1 466.8h0M298.5 467.6h0M300.0 467.6h0M301.5 468.9h0M303.0 469.3h0M304.5 469.7h0M306.0 470.3h0M307.5 471.2h0M308.9 472.2h0M310.4 471.4h0M311.9 472.1h0M313.4 473.2h0M314.9 473.5h0M316.4 474.1h0M317.9 475.0h0M319.3 475.4h0M320.8 475.5h0M322.3 475.6h0M323.8 475.4h0M325.3 476.3h0M326.8 476.6h0M328.3 477.1h0M329.7 477.6h0M331.2 477.5h0M332.7 477.8h0M334.2 477.6h0M335.7 478.1h0M337.2 478.7h0M338.7 479.1h0M340.1 478.7h0M341.6 479.7h0M343.1 479.2h0M344.6 479.7h0M346.1 480.6h0M347.6 480.3h0M349.1 480.9h0M350.5 481.5h0M352.0 481.0h0M353.5 481.8h0M355.0 482.0h0M356.5 481.4h0M358.0 482.6h0M359.5 483.1h0M361.0 482.7h0M362.4 483.1h0M363.9 483.4h0M365.4 484.3h0M366.9 483.9h0M368.4 484.1h0M369.9 484.4h0M371.4 484.5h0M372.8 484.4h0M374.3 485.1h0M375.8 484.8h0M377.3 485.6h0M378.8 486.1h0M380.3 485.9h0M381.8 485.8h0M383.2 486.1h0M384.7 486.9h0M386.2 485.7h0M387.7 486.4h0M389.2 486.9h0M390.7 486.5h0M392.2 486.9h0M393.6 487.0h0M395.1 486.6h0M396.6 487.9h0M398.1 487.1h0M399.6 488.3h0M401.1 488.0h0M402.6 488.3h0M404.0 487.7h0M405.5 488.1h0M407.0 488.1h0M408.5 488.0h0M410.0 489.1h0M411.5 488.6h0M413.0 488.4h0M414.4 488.7h0M415.9 489.0h0M417.4 488.8h0M418.9 489.7h0M420.4 489.0h0M421.9 490.0h0M423.4 489.2h0M424.8 489.2h0M426.3 489.6h0M427.8 490.0h0M429.3 489.9h0M430.8 490.0h0M432.3 489.9h0M433.8 490.8h0M435.2 491.0h0M436.7 490.5h0M438.2 490.6h0M439.7 491.1h0M441.2 491.0h0M442.7 491.2h0M444.2 491.3h0M445.6 491.8h0M447.1 491.1h0M448.6 490.9h0M450.1 491.4h0M451.6 492.1h0M453.1 491.8h0M454.6 491.7h0M456.0 491.9h0M457.5 491.9h0M459.0 492.1h0M460.5 492.4h0M462.0 492.2h0M463.5 492.1h0M465.0 492.7h0M466.5 492.6h0M467.9 492.3h0M469.4 492.3h0M470.9 492.6h0M472.4 492.6h0M473.9 493.1h0M475.4 492.7h0M476.9 493.3h0M478.3 492.4h0M479.8 492.9h0M481.3 493.7h0M482.8 493.7h0M484.3 493.6h0M485.8 493.6h0M487.3 493.8h0M488.7 494.5h0M490.2 493.8h0M491.7 494.4h0M493.2 493.3h0M494.7 494.0h0M496.2 494.6h0M497.7 494.1h0M499.1 493.5h0M500.6 494.2h0M502.1 495.3h0M503.6 495.0h0M505.1 494.7h0M506.6 494.1h0M508.1 494.9h0M509.5 494.8h0M511.0 495.6h0M512.5 495.1h0M514.0 494.7h0M515.5 495.8h0M517.0 495.8h0M518.5 495.8h0M519.9 495.4h0M521.4 496.1h0M522.9 495.3h0M524.4 495.4h0M525.9 495.4h0M527.4 495.7h0M528.9 496.5h0M530.3 496.4h0M531.8 496.3h0M533.3 496.2h0M534.8 496.7h0M536.3 496.4h0M537.8 496.7h0M539.3 496.5h0M540.7 497.2h0M542.2 497.6h0M543.7 497.1h0M545.2 497.3h0M546.7 498.4h0M548.2 497.8h0M549.7 497.7h0M551.1 497.6h0M552.6 498.6h0M554.1 497.7h0M555.6 497.9h0M557.1 498.2h0M558.6 498.2h0M560.1 498.1h0M561.5 498.2h0M563.0 497.9h0M564.5 499.0h0M566.0 498.3h0M567.5 498.5h0M569.0 498.2h0M570.5 498.7h0M572.0 499.0h0M573.4 498.7h0M574.9 499.6h0M576.4 499.1h0M577.9 499.3h0M579.4 499.3h0M580.9 499.4h0M582.4 499.4h0M583.8 500.0h0M585.3 499.4h0M586.8 500.8h0M588.3 500.7h0M589.8 499.5h0M591.3 500.0h0M592.8 499.9h0M594.2 500.0h0M595.7 501.1h0M597.2 499.9h0M598.7 500.5h0M600.2 500.4h0M601.7 500.7h0M603.2 501.7h0M604.6 501.6h0M606.1 500.2h0M607.6 501.2h0M609.1 500.7h0M610.6 500.8h0M612.1 501.5h0M613.6 501.1h0M615.0 501.5h0M616.5 501.2h0M618.0 500.9h0M619.5 501.5h0M621.0 501.2h0M622.5 501.4h0M624.0 500.6h0M625.4 500.9h0M626.9 501.6h0M628.4 501.6h0M629.9 501.1h0M631.4 501.1h0M632.9 501.3h0M634.4 501.4h0M635.8 501.3h0M637.3 501.8h0M638.8 502.2h0M640.3 501.8h0M641.8 502.1h0M643.3 502.2h0M644.8 501.6h0M646.2 501.8h0M647.7 502.1h0M649.2 502.2h0M650.7 501.7h0M652.2 501.9h0M653.7 501.9h0M655.2 501.8h0M656.6 502.2h0M658.1 502.2h0M659.6 501.7h0M661.1 502.6h0M662.6 502.3h0M664.1 502.0h0M665.6 502.3h0M667.0 502.6h0M668.5 501.6h0M670.0 502.3h0M671.5 502.8h0M673.0 502.6h0M674.5 502.8h0M676.0 502.7h0M677.5 502.2h0M678.9 503.6h0M680.4 503.5h0M681.9 502.6h0M683.4 503.1h0M684.9 503.5h0M686.4 503.7h0M687.9 502.8h0M689.3 502.4h0M690.8 503.2h0M692.3 503.4h0M693.8 503.0h0M695.3 502.7h0M696.8 503.2h0M698.3 503.3h0M699.7 503.7h0M701.2 503.5h0M702.7 502.9h0M704.2 503.8h0M705.7 504.4h0M707.2 504.4h0M708.7 503.7h0M710.1 503.2h0M711.6 503.2h0M713.1 503.8h0M714.6 504.1h0M716.1 524.9h0M717.6 543.0h0M719.1 556.6h0M720.5 567.0h0M722.0 574.8h0M723.5 580.1h0M725.0 586.7h0M726.5 591.2h0M728.0 593.9h0M729.5 599.5h0M730.9 601.3h0M732.4 603.9h0M733.9 606.7h0M735.4 609.5h0M736.9 613.1h0M738.4 616.7h0M739.9 620.2h0M741.3 622.0h0M742.8 625.1h0M744.3 625.4h0M745.8 629.0h0M747.3 631.7h0M748.8 633.3h0M750.3 635.7h0M751.7 636.0h0M753.2 640.0h0M754.7 641.3h0M756.2 640.4h0M757.7 643.7h0M759.2 644.9h0M760.7 644.6h0M762.1 648.3h0M763.6 650.3h0M765.1 648.4h0M766.6 653.0h0M768.1 655.4h0M769.6 653.2h0M771.1 656.4h0M772.5 658.1h0M774.0 656.6h0M775.5 656.9h0M777.0 661.4h0M778.5 661.7h0M780.0 661.2h0M781.5 662.0h0M783.0 665.1h0M784.4 666.1h0M785.9 665.0h0M787.4 664.6h0M788.9 665.8h0M790.4 667.1h0M791.9 672.1h0M793.4 671.6h0M794.8 670.4h0M796.3 669.7h0M797.8 677.2h0M799.3 668.4h0M800.8 670.2h0M802.3 677.7h0M803.8 673.1h0M805.2 677.4h0M806.7 675.9h0M808.2 677.4h0M809.7 672.2h0M811.2 673.5h0M812.7 680.8h0M814.2 676.5h0M815.6 673.6h0M817.1 679.8h0M818.6 676.8h0M820.1 682.2h0M821.6 679.1h0M823.1 684.4h0M824.6 681.7h0M826.0 683.0h0M827.5 685.1h0M829.0 686.8h0M830.5 688.1h0M832.0 684.9h0M833.5 685.3h0M835.0 687.6h0M836.4 684.6h0M837.9 683.7h0M839.4 689.1h0M840.9 695.9h0M842.4 685.6h0M843.9 687.4h0M845.4 689.4h0M846.8 682.5h0M848.3 697.8h0M849.8 686.4h0M851.3 687.9h0M852.8 688.9h0M854.3 703.4h0M855.8 693.1h0M857.2 688.6h0M858.7 683.8h0M860.2 692.6h0M861.7 698.2h0M863.2 688.1h0M864.7 683.6h0M866.2 690.1h0M867.6 706.2h0M869.1 695.4h0M870.6 694.3h0M872.1 706.2h0M873.6 701.2h0M875.1 686.7h0M876.6 695.9h0M878.0 688.6h0M879.5 692.0h0M881.0 687.5h0M882.5 690.1h0M884.0 694.3h0M885.5 689.7h0M887.0 694.8h0M888.5 696.6h0M889.9 689.0h0M891.4 685.6h0M892.9 694.7h0M894.4 696.7h0M895.9 687.2h0M897.4 706.2h0M898.9 690.2h0M900.3 706.2h0M901.8 699.5h0M903.3 706.2h0M904.8 704.6h0M906.3 698.2h0M907.8 693.5h0M909.3 706.2h0M910.7 706.2h0M912.2 701.8h0M913.7 693.0h0M915.2 692.6h0M916.7 692.1h0M918.2 693.3h0M919.7 702.7h0M921.1 706.2h0M922.6 699.6h0M924.1 680.6h0M925.6 698.4h0M927.1 692.2h0M928.6 706.2h0M930.1 696.3h0M931.5 689.5h0M933.0 706.2h0M934.5 706.2h0M936.0 706.2h0M937.5 706.2h0M939.0 695.6h0M940.5 696.3h0M941.9 706.2h0M943.4 696.6h0M944.9 699.2h0M946.4 690.9h0M947.9 706.2h0M949.4 690.2h0M950.9 706.2h0M952.3 706.2h0M953.8 697.2h0M955.3 706.2h0M956.8 694.5h0M958.3 686.4h0M959.8 701.4h0M961.3 692.0h0M962.7 706.2h0M964.2 697.8h0M965.7 706.2h0M967.2 706.2h0M968.7 706.2h0M970.2 706.2h0M971.7 706.2h0M973.1 695.1h0M974.6 703.4h0M976.1 693.9h0M977.6 706.2h0M979.1 693.8h0M980.6 692.6h0M982.1 706.2h0M983.5 706.2h0" fill="none" stroke="#7E2F8E" stroke-width="5.8" stroke-linecap="round"/>
<g stroke="#000" stroke-width="1.3" fill="none">
<path d="M190.8 86.4L302.0 87.8"/>
<path d="M197.0 189.2L297.8 163.7"/>
<path d="M174.6 282.1L299.5 237.8"/>
<path d="M174.6 392.7L305.6 305.9"/>
</g>
<g font-family="'Liberation Sans', Arial, Helvetica, sans-serif" font-size="36" fill="#000" stroke="#000" stroke-width="0.3">
<text x="315.6" y="101.0">16.8 K</text>
<text x="315.6" y="174.5">17.1 K</text>
<text x="315.6" y="248.7">17.4 K</text>
<text x="315.6" y="316.0">17.7 K</text>
</g>
</svg>
</body></html>
